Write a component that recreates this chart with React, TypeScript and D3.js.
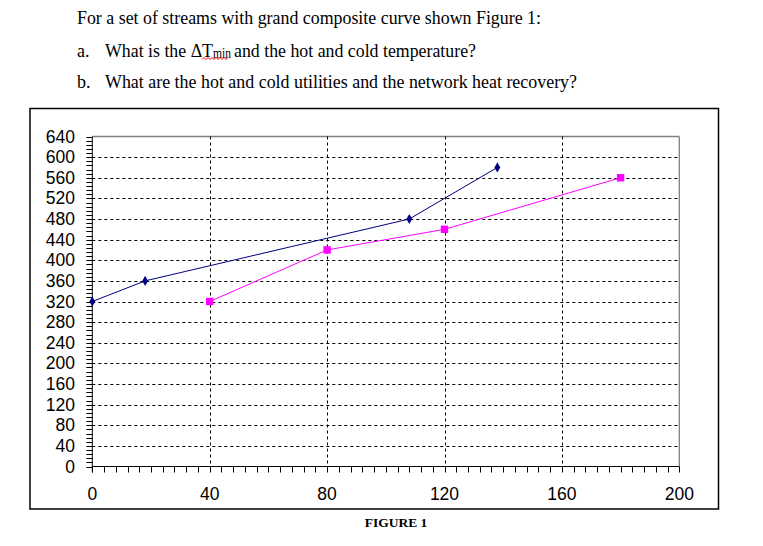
import React from "react";
import * as d3 from "d3";

const hotX = [0, 18, 108, 138];
const hotY = [320, 360, 480, 580];
const coldX = [40, 80, 120, 180];
const coldY = [320, 420, 460, 560];
const xTicks = [0, 40, 80, 120, 160, 200];
const yTicks = [0, 40, 80, 120, 160, 200, 240, 280, 320, 360, 400, 440, 480, 520, 560, 600, 640];
const xMinor = d3.range(0, 201, 4);
const yMinor = d3.range(0, 641, 8);

const W = 763, H = 546;
const L = 92.3, R = 679.3, T = 136.5, B = 466.5;

export default function App() {
  const x = d3.scaleLinear().domain([0, 200]).range([L, R]);
  const y = d3.scaleLinear().domain([0, 640]).range([B, T]);
  const hot = hotX.map((v, i) => [v, hotY[i]] as [number, number]);
  const cold = coldX.map((v, i) => [v, coldY[i]] as [number, number]);
  const line = d3.line<[number, number]>().x(d => x(d[0])).y(d => y(d[1]));
  const serif = "'Times New Roman', 'Liberation Serif', serif";
  const sans = "Arial, 'Liberation Sans', sans-serif";
  const wavy: string[] = [];
  for (let i = 0, xx = 202; xx <= 229; i++, xx += 2) {
    wavy.push(`${i === 0 ? "M" : "L"}${xx},${i % 2 === 0 ? 59.5 : 57.5}`);
  }
  return (
    <svg width={W} height={H} style={{ position: "absolute", left: 0, top: 0, background: "#fff" }}>
      <rect x={0} y={0} width={W} height={H} fill="#fff" />
      <g fontFamily={serif} fontSize={18} fill="#000">
        <text x={77} y={24} textLength={464} lengthAdjust="spacingAndGlyphs">For a set of streams with grand composite curve shown Figure 1:</text>
        <text x={77} y={56.7}>a.</text>
        <text x={105} y={56.7} textLength={108} lengthAdjust="spacingAndGlyphs">What is the ΔT</text>
        <text x={213} y={58} fontSize={14} textLength={18} lengthAdjust="spacingAndGlyphs">min</text>
        <text x={234} y={56.7} textLength={242} lengthAdjust="spacingAndGlyphs">and the hot and cold temperature?</text>
        <path d={wavy.join("")} fill="none" stroke="#e00" strokeWidth={1} />
        <text x={77} y={87.7}>b.</text>
        <text x={105} y={87.7} textLength={472} lengthAdjust="spacingAndGlyphs">What are the hot and cold utilities and the network heat recovery?</text>
      </g>
      <rect x={30} y={108.5} width={688.5} height={400.5} fill="none" stroke="#000" strokeWidth={1.5} />
      <line x1={L} x2={R} y1={T} y2={T} stroke="#808080" strokeWidth={1.3} />
      <line x1={R} x2={R} y1={T} y2={B} stroke="#808080" strokeWidth={1.3} />
      {yTicks.filter(t => t > 0 && t < 640).map(t => (
        <line key={"gy" + t} x1={L} x2={R} y1={Math.round(y(t)) + 0.5} y2={Math.round(y(t)) + 0.5} stroke="#000" strokeDasharray="3,3" strokeWidth={1} />
      ))}
      {xTicks.filter(t => t > 0 && t < 200).map(t => (
        <line key={"gx" + t} x1={Math.round(x(t)) + 0.5} x2={Math.round(x(t)) + 0.5} y1={T} y2={B} stroke="#000" strokeDasharray="3,3" strokeWidth={1} />
      ))}
      <line x1={L} x2={L} y1={T} y2={B + 6} stroke="#000" strokeWidth={1} />
      <line x1={L} x2={R} y1={B} y2={B} stroke="#000" strokeWidth={1} />
      {yMinor.map(t => (
        <line key={"ym" + t} x1={L - 6} x2={L} y1={Math.round(y(t)) + 0.5} y2={Math.round(y(t)) + 0.5} stroke="#000" strokeWidth={1} />
      ))}
      {xMinor.map(t => (
        <line key={"xm" + t} x1={Math.round(x(t)) + 0.5} x2={Math.round(x(t)) + 0.5} y1={B} y2={B + 6} stroke="#000" strokeWidth={1} />
      ))}
      <g fontFamily={sans} fontSize={17.5} fill="#000">
        {yTicks.map(t => (
          <text key={"yl" + t} x={75} y={y(t) + 6} textAnchor="end">{t}</text>
        ))}
        {xTicks.map(t => (
          <text key={"xl" + t} x={x(t)} y={499.5} textAnchor="middle">{t}</text>
        ))}
      </g>
      <path d={line(hot) || ""} fill="none" stroke="#000080" strokeWidth={1} />
      <path d={line(cold) || ""} fill="none" stroke="#FF00FF" strokeWidth={1} />
      {hot.map((d, i) => (
        <path key={"hm" + i} d={d3.symbol().type(d3.symbolDiamond).size(30)() || ""} transform={`translate(${x(d[0])},${y(d[1])})`} fill="#000080" />
      ))}
      {cold.map((d, i) => (
        <rect key={"cm" + i} x={x(d[0]) - 3.7} y={y(d[1]) - 3.7} width={7.4} height={7.4} fill="#FF00FF" />
      ))}
      <text x={396} y={527} textAnchor="middle" fontFamily={serif} fontWeight="bold" fontSize={13.5} fill="#000">FIGURE 1</text>
    </svg>
  );
}
